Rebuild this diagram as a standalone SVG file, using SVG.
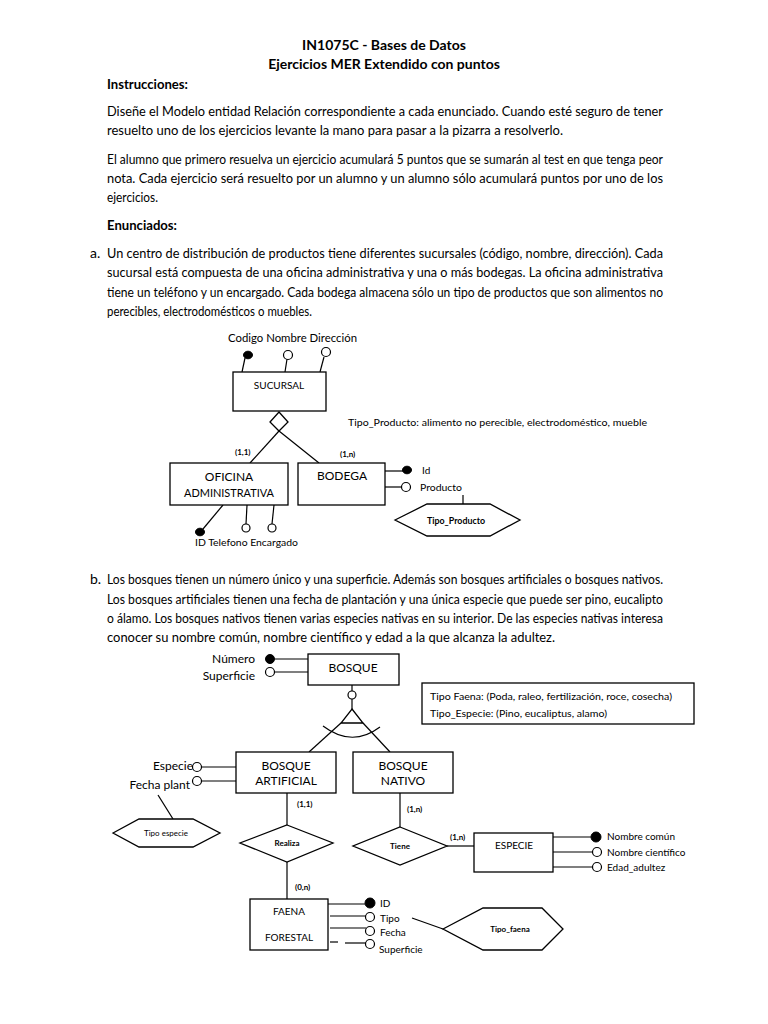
<svg xmlns="http://www.w3.org/2000/svg" width="768" height="1024" viewBox="0 0 768 1024">
<style>
text{font-family:Lato,"Liberation Sans",sans-serif;fill:#000}
.p{font-size:14px}
.b{font-weight:bold}
.h{font-size:14px;font-weight:bold}
.d12{font-size:12px}
.d10{font-size:10px}
.d9{font-size:9px}
.d8{font-size:8px}
.c{text-anchor:middle}
.r{text-anchor:end}
.s{fill:none;stroke:#000;stroke-width:1.2}
.box{fill:#fff;stroke:#000;stroke-width:1.3}
.oc{fill:#fff;stroke:#000;stroke-width:1.2}
.fc{fill:#000;stroke:#000;stroke-width:1}
</style>
<rect width="768" height="1024" fill="#fff"/>

<g id="header">
<text class="h c" x="384" y="50">IN1075C - Bases de Datos</text>
<text class="h c" x="384" y="69">Ejercicios MER Extendido con puntos</text>
<text class="h" x="107" y="89" textLength="81" lengthAdjust="spacingAndGlyphs">Instrucciones:</text>
<text class="p" x="107" y="116" textLength="556" lengthAdjust="spacingAndGlyphs">Diseñe el Modelo entidad Relación correspondiente a cada enunciado. Cuando esté seguro de tener</text>
<text class="p" x="107" y="135" textLength="456" lengthAdjust="spacingAndGlyphs">resuelto uno de los ejercicios levante la mano para pasar a la pizarra a resolverlo.</text>
<text class="p" x="107" y="164" textLength="556" lengthAdjust="spacingAndGlyphs">El alumno que primero resuelva un ejercicio acumulará 5 puntos que se sumarán al test en que tenga peor</text>
<text class="p" x="107" y="183" textLength="556" lengthAdjust="spacingAndGlyphs">nota. Cada ejercicio será resuelto por un alumno y un alumno sólo acumulará puntos por uno de los</text>
<text class="p" x="107" y="202" textLength="51" lengthAdjust="spacingAndGlyphs">ejercicios.</text>
<text class="h" x="107" y="230" textLength="70" lengthAdjust="spacingAndGlyphs">Enunciados:</text>
<text class="p" x="90" y="258">a.</text>
<text class="p" x="107" y="258" textLength="556" lengthAdjust="spacingAndGlyphs">Un centro de distribución de productos tiene diferentes sucursales (código, nombre, dirección). Cada</text>
<text class="p" x="107" y="277" textLength="556" lengthAdjust="spacingAndGlyphs">sucursal está compuesta de una oficina administrativa y una o más bodegas.  La oficina administrativa</text>
<text class="p" x="107" y="297" textLength="556" lengthAdjust="spacingAndGlyphs">tiene un teléfono y un encargado. Cada bodega almacena sólo un tipo de productos que son alimentos no</text>
<text class="p" x="107" y="316" textLength="205" lengthAdjust="spacingAndGlyphs">perecibles, electrodomésticos o muebles.</text>
<text class="p" x="90" y="584">b.</text>
<text class="p" x="107" y="584" textLength="556" lengthAdjust="spacingAndGlyphs">Los bosques tienen un número único y una superficie. Además son bosques artificiales o bosques nativos.</text>
<text class="p" x="107" y="604" textLength="556" lengthAdjust="spacingAndGlyphs">Los bosques artificiales tienen una fecha de plantación y una única especie que puede ser pino, eucalipto</text>
<text class="p" x="107" y="623" textLength="556" lengthAdjust="spacingAndGlyphs">o álamo. Los bosques nativos tienen varias especies nativas en su interior. De las especies nativas interesa</text>
<text class="p" x="107" y="642" textLength="448" lengthAdjust="spacingAndGlyphs">conocer su nombre común, nombre científico y edad a la que alcanza la adultez.</text>
</g>

<!-- Diagram a -->
<g id="connectors-a">
<line class="s" x1="245" y1="358" x2="242" y2="372"/>
<line class="s" x1="287" y1="359" x2="285" y2="372"/>
<line class="s" x1="324" y1="357" x2="320" y2="372"/>
<line class="s" x1="279" y1="431" x2="250" y2="463"/>
<line class="s" x1="279" y1="431" x2="319" y2="463"/>
<line class="s" x1="385" y1="471" x2="403" y2="471"/>
<line class="s" x1="385" y1="487" x2="401" y2="487"/>
<line class="s" x1="463" y1="495" x2="463" y2="504"/>
<line class="s" x1="223" y1="505" x2="203" y2="529"/>
<line class="s" x1="247" y1="505" x2="246" y2="524"/>
<line class="s" x1="274" y1="505" x2="272" y2="524"/>
<text class="d8 b" x="235" y="455">(1,1)</text>
<text class="d8 b" x="340" y="457">(1,n)</text>
</g>
<g id="sucursal">
<text class="d12" x="228" y="342" textLength="129" lengthAdjust="spacingAndGlyphs">Codigo Nombre Dirección</text>
<ellipse class="fc" cx="248" cy="355" rx="4.5" ry="3.8"/>
<circle class="oc" cx="288" cy="355" r="4.5"/>
<circle class="oc" cx="326" cy="352" r="4.5"/>
<rect class="box" x="233" y="372" width="93" height="39"/>
<text class="d10 c" x="279" y="389">SUCURSAL</text>
<polygon class="box" points="279,412 288,422 279,431 270,422"/>
</g>
<g id="oficina">
<rect class="box" x="170" y="463" width="118" height="42"/>
<text class="d12 c" x="229" y="481">OFICINA</text>
<text class="d12 c" x="229" y="497" textLength="90" lengthAdjust="spacingAndGlyphs">ADMINISTRATIVA</text>
<ellipse class="fc" cx="200" cy="532" rx="4.5" ry="3.8"/>
<circle class="oc" cx="246" cy="528" r="4"/>
<circle class="oc" cx="272" cy="528" r="4"/>
<text class="d10" x="195" y="546" textLength="103" lengthAdjust="spacingAndGlyphs">ID  Telefono Encargado</text>
</g>
<g id="bodega">
<rect class="box" x="298" y="463" width="87" height="42"/>
<text class="d12 c" x="342" y="480">BODEGA</text>
<ellipse class="fc" cx="407" cy="470" rx="4.5" ry="3.8"/>
<circle class="oc" cx="406" cy="487" r="4.5"/>
<text class="d10" x="422" y="474">Id</text>
<text class="d10" x="420" y="491" textLength="42" lengthAdjust="spacingAndGlyphs">Producto</text>
</g>
<g id="tipo-producto">
<polygon class="box" points="395,520 427,504 490,504 520,520 490,536 427,536"/>
<text class="d9 b c" x="456" y="524" textLength="58" lengthAdjust="spacingAndGlyphs">Tipo_Producto</text>
</g>
<g id="nota-a">
<text class="d10" x="348" y="426" textLength="299" lengthAdjust="spacingAndGlyphs">Tipo_Producto: alimento no perecible, electrodoméstico, mueble</text>
</g>

<!-- Diagram b -->
<g id="connectors-b">
<line class="s" x1="275" y1="659" x2="308" y2="659" stroke-width="1.6"/>
<line class="s" x1="275" y1="672" x2="308" y2="672"/>
<line class="s" x1="352" y1="685" x2="352" y2="691"/>
<line class="s" x1="352" y1="699" x2="352" y2="709"/>
<line class="s" x1="341" y1="723" x2="309" y2="752"/>
<line class="s" x1="363" y1="723" x2="390" y2="752"/>
<path class="s" d="M323,726 Q352,748 380,727"/>
<line class="s" x1="202" y1="767" x2="236" y2="767"/>
<line class="s" x1="202" y1="781" x2="236" y2="781"/>
<line class="s" x1="158" y1="795" x2="173" y2="819"/>
<line class="s" x1="287" y1="793" x2="287" y2="825"/>
<line class="s" x1="287" y1="862" x2="287" y2="899"/>
<line class="s" x1="400" y1="793" x2="400" y2="827"/>
<line class="s" x1="447" y1="846" x2="474" y2="846"/>
<line class="s" x1="553" y1="837" x2="591" y2="837"/>
<line class="s" x1="553" y1="852" x2="592" y2="852"/>
<line class="s" x1="553" y1="867" x2="592" y2="867"/>
<line class="s" x1="328" y1="904" x2="365" y2="904"/>
<line class="s" x1="330" y1="916" x2="366" y2="916"/>
<line class="s" x1="330" y1="928" x2="366" y2="928"/>
<line class="s" x1="330" y1="942" x2="338" y2="942"/>
<line class="s" x1="345" y1="943" x2="366" y2="943"/>
<line class="s" x1="412" y1="918" x2="443" y2="929"/>
<text class="d8 b" x="297" y="807">(1,1)</text>
<text class="d8 b" x="295" y="890">(0,n)</text>
<text class="d8 b" x="407" y="812">(1,n)</text>
<text class="d8 b" x="450" y="840">(1,n)</text>
</g>
<g id="bosque">
<text class="d12 r" x="255" y="663">Número</text>
<text class="d12 r" x="255" y="680">Superficie</text>
<circle class="fc" cx="270" cy="659" r="4.5"/>
<circle class="oc" cx="270" cy="672" r="4.5"/>
<rect class="box" x="308" y="654" width="91" height="31" stroke-width="1.8"/>
<text class="d12 c" x="353" y="672">BOSQUE</text>
<circle class="oc" cx="352" cy="695" r="4"/>
<polygon class="box" points="352,709 363,723 341,723"/>
</g>
<g id="nota-b">
<rect class="box" x="422" y="683" width="272" height="41"/>
<text class="d10" x="430" y="700" textLength="242" lengthAdjust="spacingAndGlyphs">Tipo Faena: (Poda, raleo, fertilización, roce, cosecha)</text>
<text class="d10" x="430" y="717" textLength="177" lengthAdjust="spacingAndGlyphs">Tipo_Especie: (Pino, eucaliptus, alamo)</text>
</g>
<g id="bosque-artificial">
<rect class="box" x="236" y="752" width="100" height="41"/>
<text class="d12 c" x="286" y="770">BOSQUE</text>
<text class="d12 c" x="286" y="785">ARTIFICIAL</text>
<text class="d12 r" x="193" y="770">Especie</text>
<text class="d12 r" x="190" y="789">Fecha  plant</text>
<circle class="oc" cx="197" cy="767" r="4.5"/>
<circle class="oc" cx="197" cy="781" r="4.5"/>
</g>
<g id="bosque-nativo">
<rect class="box" x="353" y="752" width="100" height="41"/>
<text class="d12 c" x="403" y="770">BOSQUE</text>
<text class="d12 c" x="403" y="785">NATIVO</text>
</g>
<g id="tipo-especie">
<polygon class="box" points="113,833 139,819 193,819 220,833 193,847 139,847"/>
<text class="d8 c" x="166" y="836">Tipo especie</text>
</g>
<g id="realiza">
<polygon class="box" points="287,825 333,843 287,862 240,843"/>
<text class="d8 b c" x="287" y="846">Realiza</text>
</g>
<g id="tiene">
<polygon class="box" points="400,827 447,846 400,865 353,846"/>
<text class="d8 b c" x="400" y="849">Tiene</text>
</g>
<g id="especie">
<rect class="box" x="474" y="833" width="79" height="39"/>
<text class="d10 c" x="514" y="849">ESPECIE</text>
<circle class="fc" cx="596" cy="837" r="5"/>
<circle class="oc" cx="597" cy="852" r="4.5"/>
<circle class="oc" cx="597" cy="867" r="4.5"/>
<text class="d10" x="607" y="840">Nombre común</text>
<text class="d10" x="607" y="856">Nombre científico</text>
<text class="d10" x="607" y="871">Edad_adultez</text>
</g>
<g id="faena">
<rect class="box" x="250" y="899" width="78" height="51"/>
<text class="d10 c" x="289" y="915">FAENA</text>
<text class="d10 c" x="289" y="941">FORESTAL</text>
<circle class="fc" cx="370" cy="903" r="5"/>
<circle class="oc" cx="370" cy="917" r="4.5"/>
<circle class="oc" cx="370" cy="931" r="4.5"/>
<circle class="oc" cx="370" cy="944" r="4.5"/>
<text class="d10" x="380" y="907">ID</text>
<text class="d10" x="380" y="922">Tipo</text>
<text class="d10" x="380" y="936">Fecha</text>
<text class="d10" x="379" y="953">Superficie</text>
</g>
<g id="tipo-faena">
<polygon class="box" points="443,929 483,908 542,908 563,929 542,950 483,950"/>
<text class="d8 b c" x="510" y="932">Tipo_faena</text>
</g>
</svg>
